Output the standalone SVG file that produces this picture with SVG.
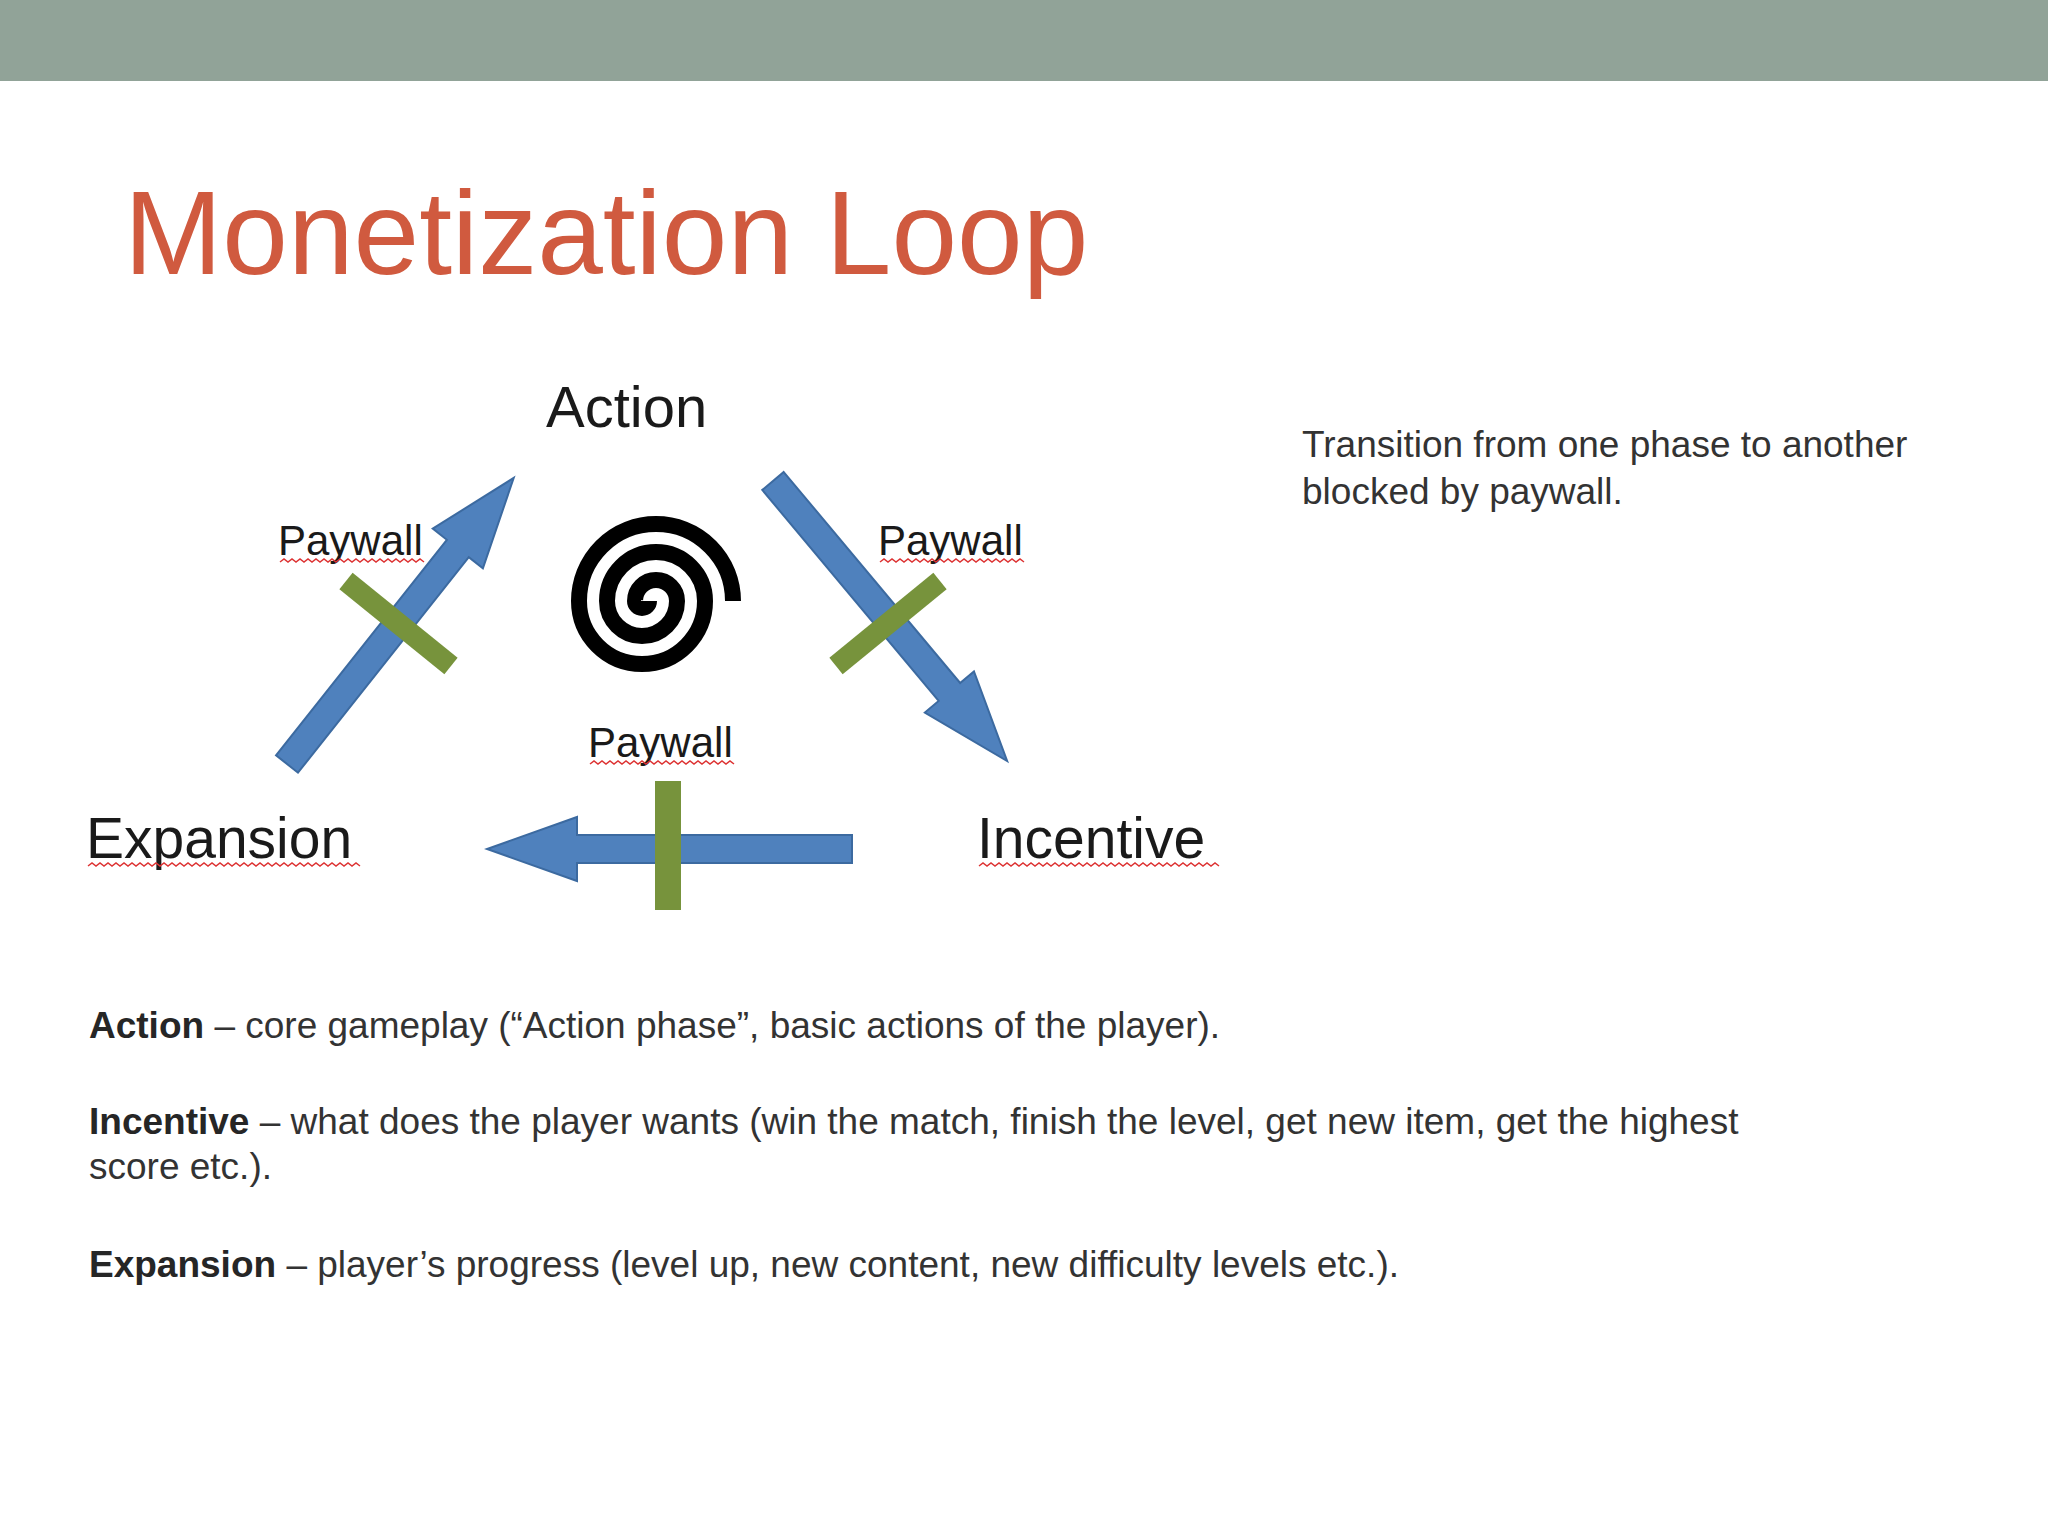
<svg xmlns="http://www.w3.org/2000/svg" width="2048" height="1536" viewBox="0 0 2048 1536">
<defs>
<style>
.lbl{font-family:"Liberation Sans",Arial,sans-serif;fill:#1a1a1a}
.body{font-family:"Liberation Sans",Arial,sans-serif;font-size:37px;fill:#333}
.b{font-weight:bold;fill:#262626}
.arrow{fill:#4f81bd;stroke:#3c6aa0;stroke-width:2}
.bar{stroke:#77933c;stroke-linecap:butt}
.sq{fill:none;stroke:#d33;stroke-width:1.5}
</style>
<polygon id="arr" points="0,-14 275,-14 275,-32 365,0 275,32 275,14 0,14"/>
</defs>
<rect width="2048" height="1536" fill="#fff"/>
<rect width="2048" height="81" fill="#91a398"/>
<text x="124" y="274" font-family="Liberation Sans,Arial,sans-serif" font-size="118" fill="#d05a3f">Monetization Loop</text>

<g id="connectors">
<use href="#arr" class="arrow" transform="translate(287,764) rotate(-51.6)"/>
<use href="#arr" class="arrow" transform="translate(773,481) rotate(50.1)"/>
<use href="#arr" class="arrow" transform="translate(852,849) rotate(180)"/>
<line class="bar" x1="346" y1="581" x2="451" y2="666" stroke-width="21"/>
<line class="bar" x1="940" y1="581" x2="836" y2="666" stroke-width="21"/>
<line class="bar" x1="668" y1="781" x2="668" y2="910" stroke-width="26"/>
</g>

<g id="spiral">
<path d="M649,601 A7,7 0 0 1 635,601 A21,21 0 0 1 677,601 A35,35 0 0 1 607,601 A49,49 0 0 1 705,601 A63,63 0 0 1 579,601 A77,77 0 0 1 733,601" fill="none" stroke="#000" stroke-width="16"/>
</g>

<g id="action"><text class="lbl" x="546" y="427" font-size="58">Action</text></g>
<g id="expansion"><text class="lbl" x="86" y="858" font-size="57">Expansion</text>
<path class="sq" d="M88,866 l4,-3 4,3 4,-3 4,3 4,-3 4,3 4,-3 4,3 4,-3 4,3 4,-3 4,3 4,-3 4,3 4,-3 4,3 4,-3 4,3 4,-3 4,3 4,-3 4,3 4,-3 4,3 4,-3 4,3 4,-3 4,3 4,-3 4,3 4,-3 4,3 4,-3 4,3 4,-3 4,3 4,-3 4,3 4,-3 4,3 4,-3 4,3 4,-3 4,3 4,-3 4,3 4,-3 4,3 4,-3 4,3 4,-3 4,3 4,-3 4,3 4,-3 4,3 4,-3 4,3 4,-3 4,3 4,-3 4,3 4,-3 4,3 4,-3 4,3 4,-3 4,3"/></g>
<g id="incentive"><text class="lbl" x="977" y="858" font-size="57">Incentive</text>
<path class="sq" d="M979,866 l4,-3 4,3 4,-3 4,3 4,-3 4,3 4,-3 4,3 4,-3 4,3 4,-3 4,3 4,-3 4,3 4,-3 4,3 4,-3 4,3 4,-3 4,3 4,-3 4,3 4,-3 4,3 4,-3 4,3 4,-3 4,3 4,-3 4,3 4,-3 4,3 4,-3 4,3 4,-3 4,3 4,-3 4,3 4,-3 4,3 4,-3 4,3 4,-3 4,3 4,-3 4,3 4,-3 4,3 4,-3 4,3 4,-3 4,3 4,-3 4,3 4,-3 4,3 4,-3 4,3 4,-3 4,3"/></g>
<g id="paywall1"><text class="lbl" x="278" y="555" font-size="42">Paywall</text>
<path class="sq" d="M280,562 l4,-3 4,3 4,-3 4,3 4,-3 4,3 4,-3 4,3 4,-3 4,3 4,-3 4,3 4,-3 4,3 4,-3 4,3 4,-3 4,3 4,-3 4,3 4,-3 4,3 4,-3 4,3 4,-3 4,3 4,-3 4,3 4,-3 4,3 4,-3 4,3 4,-3 4,3 4,-3 4,3"/></g>
<g id="paywall2"><text class="lbl" x="878" y="555" font-size="42">Paywall</text>
<path class="sq" d="M880,562 l4,-3 4,3 4,-3 4,3 4,-3 4,3 4,-3 4,3 4,-3 4,3 4,-3 4,3 4,-3 4,3 4,-3 4,3 4,-3 4,3 4,-3 4,3 4,-3 4,3 4,-3 4,3 4,-3 4,3 4,-3 4,3 4,-3 4,3 4,-3 4,3 4,-3 4,3 4,-3 4,3"/></g>
<g id="paywall3"><text class="lbl" x="588" y="757" font-size="42">Paywall</text>
<path class="sq" d="M590,764 l4,-3 4,3 4,-3 4,3 4,-3 4,3 4,-3 4,3 4,-3 4,3 4,-3 4,3 4,-3 4,3 4,-3 4,3 4,-3 4,3 4,-3 4,3 4,-3 4,3 4,-3 4,3 4,-3 4,3 4,-3 4,3 4,-3 4,3 4,-3 4,3 4,-3 4,3 4,-3 4,3"/></g>

<g id="note">
<text class="body" x="1302" y="457">Transition from one phase to another</text>
<text class="body" x="1302" y="504">blocked by paywall.</text>
</g>
<g id="desc">
<text class="body" x="89" y="1038"><tspan class="b">Action</tspan> – core gameplay (“Action phase”, basic actions of the player).</text>
<text class="body" x="89" y="1134"><tspan class="b">Incentive</tspan> – what does the player wants (win the match, finish the level, get new item, get the highest</text>
<text class="body" x="89" y="1179">score etc.).</text>
<text class="body" x="89" y="1277"><tspan class="b">Expansion</tspan> – player’s progress (level up, new content, new difficulty levels etc.).</text>
</g>
</svg>
